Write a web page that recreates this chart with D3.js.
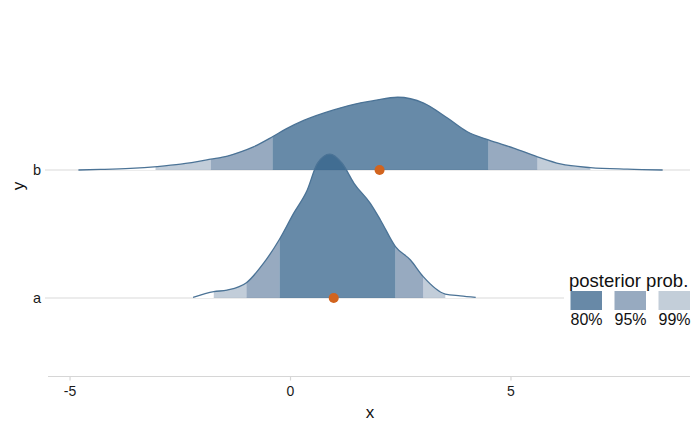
<!DOCTYPE html>
<html><head><meta charset="utf-8">
<script src="https://cdn.jsdelivr.net/npm/d3@7"></script>
<style>body{margin:0;background:#fff}svg{display:block;font-family:"Liberation Sans",Arial,sans-serif}</style>
</head><body><svg id="c" width="700" height="432"></svg>
<script>
// ---- data ----
const categories = ["a", "b"];
const xTicks = [-5, 0, 5];
const levelLabels = ["80%", "95%", "99%"];

const bX = [-4.81,-4.31,-3.63,-3.02,-2.49,-1.81,-1.43,-1.13,-0.84,-0.41,-0.10,0.30,0.98,1.59,1.88,2.43,3.02,3.56,4.01,4.49,5.06,5.60,6.12,6.80,7.64,8.44];
const bDensity = [0.000,0.002,0.006,0.013,0.022,0.041,0.053,0.069,0.088,0.126,0.156,0.188,0.228,0.255,0.263,0.276,0.254,0.197,0.145,0.114,0.083,0.050,0.023,0.009,0.003,0.000];
const aX = [-2.21,-1.74,-1.44,-1.00,-0.61,-0.25,0.07,0.38,0.61,0.89,1.17,1.44,1.81,2.04,2.38,2.72,3.01,3.51,3.85,4.20];
const aDensity = [0.002,0.024,0.030,0.058,0.132,0.223,0.321,0.410,0.511,0.546,0.511,0.435,0.359,0.296,0.195,0.144,0.081,0.015,0.008,0.002];
// intervals: [80%, 95%, 99%] as [lo, hi]
const aIntervals = [[-0.25, 2.38], [-1.00, 3.01], [-1.74, 3.51]];
const bIntervals = [[-0.41, 4.49], [-1.81, 5.60], [-3.06, 6.80]];
const pointEstimates = [0.98, 2.02];

// ---- styles ----
const bandFill = ["#34638b", "#748eab", "#aebccc"];
const bandOpacity = 0.75;
const legendFill = ["#6889a7", "#97aac0", "#c3ced9"];
const outline = "#4b7396";
const pointColor = "#d2641e";

const svg = d3.select("#c");
const x = d3.scaleLinear().domain([-5.5, 9.06]).range([48, 690]);
const y = d3.scalePoint().domain(categories).range([298, 170]);
const h = d3.scaleLinear().domain([0, 0.55]).range([0, 145]);

// gridlines at categories
svg.append("g").selectAll("line").data(categories).join("line")
  .attr("x1", 45).attr("x2", 690)
  .attr("y1", d => y(d)).attr("y2", d => y(d))
  .attr("stroke", "#dadada").attr("stroke-width", 1.2);

const defs = svg.append("defs");
const series = [
  {cat: "b", xs: bX, ds: bDensity, iv: bIntervals, pt: pointEstimates[1]},
  {cat: "a", xs: aX, ds: aDensity, iv: aIntervals, pt: pointEstimates[0]}
];

series.forEach(s => {
  const base = y(s.cat);
  const pts = s.xs.map((v, i) => [v, s.ds[i]]);
  const area = d3.area().curve(d3.curveMonotoneX)
    .x(d => x(d[0])).y0(base).y1(d => base - h(d[1]));
  const line = d3.line().curve(d3.curveMonotoneX)
    .x(d => x(d[0])).y(d => base - h(d[1]));
  const g = svg.append("g");
  const outerId = "clip-" + s.cat + "-outer";
  const cpo = defs.append("clipPath").attr("id", outerId);
  cpo.append("rect").attr("x", 0).attr("y", 0).attr("width", x(s.iv[2][0])).attr("height", 432);
  cpo.append("rect").attr("x", x(s.iv[2][1])).attr("y", 0).attr("width", 700).attr("height", 432);
  g.append("path").datum(pts).attr("d", area).attr("fill", "#fff").attr("clip-path", `url(#${outerId})`);
  [2, 1, 0].forEach(k => {
    const id = "clip-" + s.cat + "-" + k;
    const lo = x(s.iv[k][0]), hi = x(s.iv[k][1]);
    defs.append("clipPath").attr("id", id).append("rect")
      .attr("x", lo).attr("y", 0).attr("width", hi - lo).attr("height", 432);
    let clipRef = `url(#${id})`;
    if (k > 0) {
      const id2 = id + "-ring";
      const cp2 = defs.append("clipPath").attr("id", id2);
      const ilo = x(s.iv[k-1][0]), ihi = x(s.iv[k-1][1]);
      cp2.append("rect").attr("x", lo).attr("y", 0).attr("width", ilo - lo).attr("height", 432);
      cp2.append("rect").attr("x", ihi).attr("y", 0).attr("width", hi - ihi).attr("height", 432);
      clipRef = `url(#${id2})`;
    }
    g.append("path").datum(pts).attr("d", area)
      .attr("fill", bandFill[k]).attr("fill-opacity", bandOpacity)
      .attr("clip-path", clipRef);
  });
  g.append("path").datum(pts).attr("d", line)
    .attr("fill", "none").attr("stroke", outline).attr("stroke-width", 1.3);
  g.append("circle").attr("cx", x(s.pt)).attr("cy", base).attr("r", 5).attr("fill", pointColor);
});

// x axis
const axY = 376.5;
svg.append("line").attr("x1", 48).attr("x2", 690).attr("y1", axY).attr("y2", axY)
  .attr("stroke", "#d6d6d6").attr("stroke-width", 1.2);
const xt = svg.append("g").selectAll("g").data(xTicks).join("g")
  .attr("transform", d => `translate(${x(d)},0)`);
xt.append("line").attr("y1", axY).attr("y2", axY + 4).attr("stroke", "#d6d6d6").attr("stroke-width", 1.2);
xt.append("text").attr("y", 396).attr("text-anchor", "middle")
  .attr("font-size", 14).attr("fill", "#1a1a1a").text(d => d);

// y tick labels
svg.append("g").selectAll("text").data(categories).join("text")
  .attr("x", 41).attr("y", d => y(d) + 5).attr("text-anchor", "end")
  .attr("font-size", 14.5).attr("fill", "#1a1a1a").text(d => d);

// axis titles
svg.append("text").attr("x", 370).attr("y", 418).attr("text-anchor", "middle")
  .attr("font-size", 17).attr("fill", "#111").text("x");
svg.append("text").attr("transform", "translate(24,186) rotate(-90)").attr("text-anchor", "middle")
  .attr("font-size", 17).attr("fill", "#111").text("y");

// legend
const lg = svg.append("g");
lg.append("rect").attr("x", 564).attr("y", 266).attr("width", 136).attr("height", 66).attr("fill", "#fff");
lg.append("text").attr("x", 569).attr("y", 287).attr("font-size", 18.5).attr("fill", "#111").text("posterior prob.");
const swX = [570.5, 614.5, 658.5];
levelLabels.forEach((lab, i) => {
  lg.append("rect").attr("x", swX[i]).attr("y", 291).attr("width", 31.5).attr("height", 19).attr("fill", legendFill[i]);
  lg.append("text").attr("x", swX[i] + 16).attr("y", 325).attr("text-anchor", "middle")
    .attr("font-size", 16).attr("fill", "#111").text(lab);
});
</script></body></html>
